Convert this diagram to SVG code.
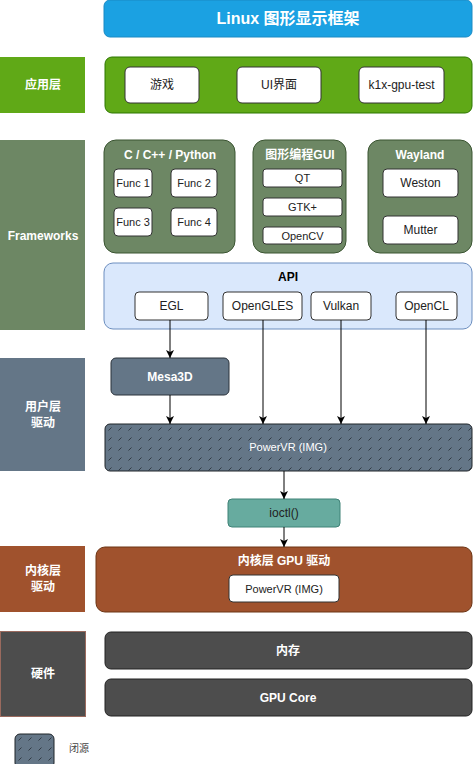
<svg xmlns="http://www.w3.org/2000/svg" width="474" height="764" viewBox="0 0 474 764">
<defs>
<pattern id="hatch" width="10" height="10" patternUnits="userSpaceOnUse" x="105" y="424">
<rect width="10" height="10" fill="#647687"/>
<line x1="3.5" y1="6.5" x2="6.5" y2="3.5" stroke="#2a323b" stroke-width="0.9"/>
</pattern>
<marker id="arr" markerWidth="10" markerHeight="10" refX="9" refY="5" orient="auto" markerUnits="userSpaceOnUse">
<path d="M1,1 L9,5 L1,9 L3,5 z" fill="#000"/>
</marker>
<style>
text{font-family:"Liberation Sans","Noto Sans CJK SC",Arial,sans-serif;text-anchor:middle;dominant-baseline:central}
.b{font-weight:bold;fill:#fff;font-size:12px}
.w{fill:#fff;stroke:#333;stroke-width:1}
.t{font-size:12px;fill:#222}
.s{font-size:11px;fill:#222}
.c{stroke:#000;stroke-width:1;fill:none;marker-end:url(#arr)}
</style>
</defs>
<rect width="474" height="764" fill="#fff"/>

<g id="title">
<rect x="104" y="0" width="368" height="37" rx="6" fill="#1ba1e2" stroke="#1a8ac4"/>
<text x="288" y="18" class="b" style="font-size:16px">Linux 图形显示框架</text>
</g>

<g id="app-side">
<rect x="0" y="57" width="85" height="56" fill="#60a917"/>
<text x="43" y="85" class="b">应用层</text>
</g>
<g id="app">
<rect x="105" y="57" width="367" height="56" rx="7" fill="#60a917" stroke="#2d7600"/>
<rect x="125" y="67" width="74" height="36" rx="5" class="w"/>
<text x="162" y="85" class="t">游戏</text>
<rect x="237" y="67" width="84" height="36" rx="5" class="w"/>
<text x="279" y="85" class="t">UI界面</text>
<rect x="359" y="67" width="85" height="36" rx="5" class="w"/>
<text x="401.5" y="85" class="t">k1x-gpu-test</text>
</g>

<g id="fw-side">
<rect x="0" y="140" width="85" height="190" fill="#6d8764"/>
<text x="43" y="236" class="b">Frameworks</text>
</g>
<g id="lang">
<rect x="104" y="140" width="131" height="113" rx="12" fill="#6d8764" stroke="#3a5431"/>
<text x="170" y="155" class="b">C / C++ / Python</text>
<rect x="114" y="169" width="38" height="28" rx="4" class="w"/>
<text x="133" y="183" class="s">Func 1</text>
<rect x="171" y="169" width="46" height="28" rx="4" class="w"/>
<text x="194" y="183" class="s">Func 2</text>
<rect x="114" y="208" width="38" height="28" rx="4" class="w"/>
<text x="133" y="222" class="s">Func 3</text>
<rect x="171" y="208" width="46" height="28" rx="4" class="w"/>
<text x="194" y="222" class="s">Func 4</text>
</g>
<g id="gui">
<rect x="253" y="140" width="93" height="113" rx="12" fill="#6d8764" stroke="#3a5431"/>
<text x="300" y="155" class="b">图形编程GUI</text>
<rect x="263" y="169" width="79" height="18" rx="3" class="w"/>
<text x="302.5" y="178" class="s">QT</text>
<rect x="263" y="198" width="79" height="18" rx="3" class="w"/>
<text x="302.5" y="207" class="s">GTK+</text>
<rect x="263" y="227" width="79" height="17" rx="3" class="w"/>
<text x="302.5" y="236" class="s">OpenCV</text>
</g>
<g id="wayland">
<rect x="368" y="140" width="104" height="113" rx="12" fill="#6d8764" stroke="#3a5431"/>
<text x="420" y="155" class="b">Wayland</text>
<rect x="383" y="169" width="75" height="28" rx="4" class="w"/>
<text x="420.5" y="183" class="t">Weston</text>
<rect x="383" y="216" width="75" height="28" rx="4" class="w"/>
<text x="420.5" y="230" class="t">Mutter</text>
</g>
<g id="api">
<rect x="104" y="263" width="368" height="66" rx="9" fill="#dae8fc" stroke="#6c8ebf"/>
<text x="288" y="277" style="font-weight:bold;font-size:12px;fill:#000">API</text>
<rect x="135" y="292" width="73" height="28" rx="4" class="w"/>
<text x="171.5" y="306" class="t">EGL</text>
<rect x="223" y="292" width="79" height="28" rx="4" class="w"/>
<text x="262.5" y="306" class="t">OpenGLES</text>
<rect x="311" y="292" width="60" height="28" rx="4" class="w"/>
<text x="341" y="306" class="t">Vulkan</text>
<rect x="396" y="292" width="61" height="28" rx="4" class="w"/>
<text x="426.5" y="306" class="t">OpenCL</text>
</g>

<g id="ud-side">
<rect x="0" y="358" width="85" height="113" fill="#647687"/>
<text x="43" y="407" class="b">用户层</text>
<text x="43" y="423" class="b">驱动</text>
</g>
<g id="mesa">
<rect x="111" y="358" width="118" height="37" rx="5" fill="#647687" stroke="#2a323b"/>
<text x="170" y="376.5" class="b">Mesa3D</text>
</g>
<g id="powervr">
<rect x="105" y="424" width="367" height="47" rx="5" fill="url(#hatch)" stroke="#1f2429"/>
<text x="288" y="447" style="font-size:11px;fill:#fff">PowerVR (IMG)</text>
</g>
<g id="ioctl">
<rect x="228" y="499" width="112" height="28" rx="4" fill="#67ab9f" stroke="#3f8277"/>
<text x="284" y="513" class="t">ioctl()</text>
</g>

<g id="kd-side">
<rect x="0" y="546" width="85" height="66" fill="#a0522d"/>
<text x="43" y="571" class="b">内核层</text>
<text x="43" y="587" class="b">驱动</text>
</g>
<g id="kernel">
<rect x="96" y="547" width="376" height="65" rx="9" fill="#a0522d" stroke="#6d3514"/>
<text x="284" y="561" class="b">内核层 GPU 驱动</text>
<rect x="229" y="575" width="110" height="27" rx="4" class="w"/>
<text x="284" y="588.5" class="s">PowerVR (IMG)</text>
</g>

<g id="hw-side">
<rect x="0.5" y="631.5" width="85" height="85" fill="#4d4d4d" stroke="#9a6a5e"/>
<text x="43" y="674" class="b">硬件</text>
</g>
<g id="mem">
<rect x="105" y="632" width="367" height="37" rx="6" fill="#4d4d4d" stroke="#222"/>
<text x="288" y="650.5" class="b">内存</text>
</g>
<g id="gpucore">
<rect x="105" y="679" width="367" height="37" rx="6" fill="#4d4d4d" stroke="#222"/>
<text x="288" y="697.5" class="b">GPU Core</text>
</g>

<g id="legend">
<rect x="15" y="734" width="39" height="34" rx="5" fill="url(#hatch)" stroke="#1f2429"/>
<text x="79" y="748" style="font-size:10px;fill:#444">闭源</text>
</g>

<g id="connectors">
<line x1="170" y1="320" x2="170" y2="358" class="c"/>
<line x1="263" y1="320" x2="263" y2="424" class="c"/>
<line x1="341" y1="320" x2="341" y2="424" class="c"/>
<line x1="426" y1="320" x2="426" y2="424" class="c"/>
<line x1="170" y1="395" x2="170" y2="424" class="c"/>
<line x1="284" y1="471" x2="284" y2="499" class="c"/>
<line x1="284" y1="527" x2="284" y2="547" class="c"/>
</g>
</svg>
